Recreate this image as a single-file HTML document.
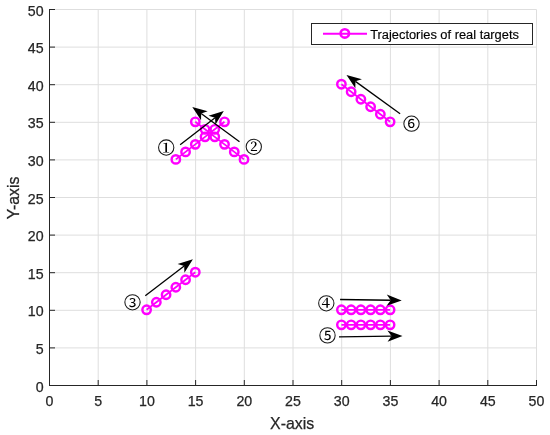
<!DOCTYPE html><html><head><meta charset="utf-8"><title>Trajectories of real targets</title><style>html,body{margin:0;padding:0;background:#fff;overflow:hidden}svg{display:block}</style></head><body>
<svg width="550" height="435" viewBox="0 0 550 435">
<rect x="0" y="0" width="550" height="435" fill="#fff"/>
<g stroke="#dedede" stroke-width="1"><line x1="98.20" y1="385.50" x2="98.20" y2="9.50"/><line x1="49.50" y1="347.90" x2="536.50" y2="347.90"/><line x1="146.90" y1="385.50" x2="146.90" y2="9.50"/><line x1="49.50" y1="310.30" x2="536.50" y2="310.30"/><line x1="195.60" y1="385.50" x2="195.60" y2="9.50"/><line x1="49.50" y1="272.70" x2="536.50" y2="272.70"/><line x1="244.30" y1="385.50" x2="244.30" y2="9.50"/><line x1="49.50" y1="235.10" x2="536.50" y2="235.10"/><line x1="293.00" y1="385.50" x2="293.00" y2="9.50"/><line x1="49.50" y1="197.50" x2="536.50" y2="197.50"/><line x1="341.70" y1="385.50" x2="341.70" y2="9.50"/><line x1="49.50" y1="159.90" x2="536.50" y2="159.90"/><line x1="390.40" y1="385.50" x2="390.40" y2="9.50"/><line x1="49.50" y1="122.30" x2="536.50" y2="122.30"/><line x1="439.10" y1="385.50" x2="439.10" y2="9.50"/><line x1="49.50" y1="84.70" x2="536.50" y2="84.70"/><line x1="487.80" y1="385.50" x2="487.80" y2="9.50"/><line x1="49.50" y1="47.10" x2="536.50" y2="47.10"/><line x1="536.50" y1="385.50" x2="536.50" y2="9.50"/><line x1="49.50" y1="9.50" x2="536.50" y2="9.50"/></g>
<g fill="#fff"><circle cx="166.20" cy="147.50" r="8.5"/><circle cx="253.80" cy="146.80" r="8.5"/><circle cx="132.50" cy="302.30" r="8.5"/><circle cx="326.30" cy="303.30" r="8.5"/><circle cx="327.50" cy="335.40" r="8.5"/><circle cx="411.50" cy="123.70" r="8.5"/></g>
<g fill="none" stroke="#ff00ff"><polyline points="175.82,159.40 185.56,151.88 195.30,144.36 205.04,136.84 214.78,129.32 224.52,121.80" stroke-width="1.8" stroke-linejoin="round"/><g stroke-width="2.45"><circle cx="175.82" cy="159.40" r="4.2"/><circle cx="185.56" cy="151.88" r="4.2"/><circle cx="195.30" cy="144.36" r="4.2"/><circle cx="205.04" cy="136.84" r="4.2"/><circle cx="214.78" cy="129.32" r="4.2"/><circle cx="224.52" cy="121.80" r="4.2"/></g><polyline points="244.00,159.40 234.26,151.88 224.52,144.36 214.78,136.84 205.04,129.32 195.30,121.80" stroke-width="1.8" stroke-linejoin="round"/><g stroke-width="2.45"><circle cx="244.00" cy="159.40" r="4.2"/><circle cx="234.26" cy="151.88" r="4.2"/><circle cx="224.52" cy="144.36" r="4.2"/><circle cx="214.78" cy="136.84" r="4.2"/><circle cx="205.04" cy="129.32" r="4.2"/><circle cx="195.30" cy="121.80" r="4.2"/></g><polyline points="146.60,309.80 156.34,302.28 166.08,294.76 175.82,287.24 185.56,279.72 195.30,272.20" stroke-width="1.8" stroke-linejoin="round"/><g stroke-width="2.45"><circle cx="146.60" cy="309.80" r="4.2"/><circle cx="156.34" cy="302.28" r="4.2"/><circle cx="166.08" cy="294.76" r="4.2"/><circle cx="175.82" cy="287.24" r="4.2"/><circle cx="185.56" cy="279.72" r="4.2"/><circle cx="195.30" cy="272.20" r="4.2"/></g><polyline points="341.40,309.80 351.14,309.80 360.88,309.80 370.62,309.80 380.36,309.80 390.10,309.80" stroke-width="1.8" stroke-linejoin="round"/><g stroke-width="2.45"><circle cx="341.40" cy="309.80" r="4.2"/><circle cx="351.14" cy="309.80" r="4.2"/><circle cx="360.88" cy="309.80" r="4.2"/><circle cx="370.62" cy="309.80" r="4.2"/><circle cx="380.36" cy="309.80" r="4.2"/><circle cx="390.10" cy="309.80" r="4.2"/></g><polyline points="341.40,324.84 351.14,324.84 360.88,324.84 370.62,324.84 380.36,324.84 390.10,324.84" stroke-width="1.8" stroke-linejoin="round"/><g stroke-width="2.45"><circle cx="341.40" cy="324.84" r="4.2"/><circle cx="351.14" cy="324.84" r="4.2"/><circle cx="360.88" cy="324.84" r="4.2"/><circle cx="370.62" cy="324.84" r="4.2"/><circle cx="380.36" cy="324.84" r="4.2"/><circle cx="390.10" cy="324.84" r="4.2"/></g><polyline points="341.40,84.20 351.14,91.72 360.88,99.24 370.62,106.76 380.36,114.28 390.10,121.80" stroke-width="1.8" stroke-linejoin="round"/><g stroke-width="2.45"><circle cx="341.40" cy="84.20" r="4.2"/><circle cx="351.14" cy="91.72" r="4.2"/><circle cx="360.88" cy="99.24" r="4.2"/><circle cx="370.62" cy="106.76" r="4.2"/><circle cx="380.36" cy="114.28" r="4.2"/><circle cx="390.10" cy="121.80" r="4.2"/></g></g>
<g stroke="#262626" stroke-width="1" stroke-linecap="square"><line x1="49.5" y1="385.5" x2="536.5" y2="385.5"/><line x1="49.5" y1="385.5" x2="49.5" y2="9.5"/><line x1="49.50" y1="385.5" x2="49.50" y2="380.50"/><line x1="49.5" y1="385.50" x2="54.50" y2="385.50"/><line x1="98.20" y1="385.5" x2="98.20" y2="380.50"/><line x1="49.5" y1="347.90" x2="54.50" y2="347.90"/><line x1="146.90" y1="385.5" x2="146.90" y2="380.50"/><line x1="49.5" y1="310.30" x2="54.50" y2="310.30"/><line x1="195.60" y1="385.5" x2="195.60" y2="380.50"/><line x1="49.5" y1="272.70" x2="54.50" y2="272.70"/><line x1="244.30" y1="385.5" x2="244.30" y2="380.50"/><line x1="49.5" y1="235.10" x2="54.50" y2="235.10"/><line x1="293.00" y1="385.5" x2="293.00" y2="380.50"/><line x1="49.5" y1="197.50" x2="54.50" y2="197.50"/><line x1="341.70" y1="385.5" x2="341.70" y2="380.50"/><line x1="49.5" y1="159.90" x2="54.50" y2="159.90"/><line x1="390.40" y1="385.5" x2="390.40" y2="380.50"/><line x1="49.5" y1="122.30" x2="54.50" y2="122.30"/><line x1="439.10" y1="385.5" x2="439.10" y2="380.50"/><line x1="49.5" y1="84.70" x2="54.50" y2="84.70"/><line x1="487.80" y1="385.5" x2="487.80" y2="380.50"/><line x1="49.5" y1="47.10" x2="54.50" y2="47.10"/><line x1="536.50" y1="385.5" x2="536.50" y2="380.50"/><line x1="49.5" y1="9.50" x2="54.50" y2="9.50"/></g>
<g font-family="'Liberation Sans', Arial, Helvetica, sans-serif" font-size="14.2" fill="#262626" stroke="#262626" stroke-width="0.25"><text x="49.50" y="406.1" text-anchor="middle">0</text><text x="43.6" y="391.60" text-anchor="end">0</text><text x="98.20" y="406.1" text-anchor="middle">5</text><text x="43.6" y="354.00" text-anchor="end">5</text><text x="146.90" y="406.1" text-anchor="middle">10</text><text x="43.6" y="316.40" text-anchor="end">10</text><text x="195.60" y="406.1" text-anchor="middle">15</text><text x="43.6" y="278.80" text-anchor="end">15</text><text x="244.30" y="406.1" text-anchor="middle">20</text><text x="43.6" y="241.20" text-anchor="end">20</text><text x="293.00" y="406.1" text-anchor="middle">25</text><text x="43.6" y="203.60" text-anchor="end">25</text><text x="341.70" y="406.1" text-anchor="middle">30</text><text x="43.6" y="166.00" text-anchor="end">30</text><text x="390.40" y="406.1" text-anchor="middle">35</text><text x="43.6" y="128.40" text-anchor="end">35</text><text x="439.10" y="406.1" text-anchor="middle">40</text><text x="43.6" y="90.80" text-anchor="end">40</text><text x="487.80" y="406.1" text-anchor="middle">45</text><text x="43.6" y="53.20" text-anchor="end">45</text><text x="536.50" y="406.1" text-anchor="middle">50</text><text x="43.6" y="15.60" text-anchor="end">50</text></g>
<text x="292.2" y="428.7" text-anchor="middle" font-family="'Liberation Sans', Arial, Helvetica, sans-serif" font-size="15.9" fill="#262626" stroke="#262626" stroke-width="0.25">X-axis</text>
<text transform="translate(18.6,197.9) rotate(-90)" x="0" y="0" text-anchor="middle" font-family="'Liberation Sans', Arial, Helvetica, sans-serif" font-size="15.9" fill="#262626" stroke="#262626" stroke-width="0.25">Y-axis</text>
<g><line x1="180.15" y1="144.80" x2="215.09" y2="117.82" stroke="#000" stroke-width="1.3"/><path d="M223.80,111.10 L215.35,124.70 L215.09,117.82 L208.50,115.83 Z" fill="#000"/><line x1="239.50" y1="141.70" x2="201.15" y2="113.43" stroke="#000" stroke-width="1.3"/><path d="M192.30,106.90 L207.70,111.29 L201.15,113.43 L201.05,120.31 Z" fill="#000"/><line x1="145.30" y1="295.80" x2="184.18" y2="265.91" stroke="#000" stroke-width="1.3"/><path d="M192.90,259.20 L184.42,272.78 L184.18,265.91 L177.60,263.90 Z" fill="#000"/><line x1="340.10" y1="299.50" x2="390.70" y2="300.24" stroke="#000" stroke-width="1.3"/><path d="M401.70,300.40 L386.62,305.78 L390.70,300.24 L386.78,294.58 Z" fill="#000"/><line x1="339.00" y1="336.90" x2="391.50" y2="336.07" stroke="#000" stroke-width="1.3"/><path d="M402.50,335.90 L387.59,341.74 L391.50,336.07 L387.41,330.54 Z" fill="#000"/><line x1="400.10" y1="113.70" x2="355.41" y2="81.35" stroke="#000" stroke-width="1.3"/><path d="M346.50,74.90 L361.93,79.16 L355.41,81.35 L355.37,88.23 Z" fill="#000"/></g>
<defs><clipPath id="c0"><circle cx="166.20" cy="147.50" r="6.6"/></clipPath><clipPath id="c1"><circle cx="253.80" cy="146.80" r="6.6"/></clipPath><clipPath id="c2"><circle cx="132.50" cy="302.30" r="6.6"/></clipPath><clipPath id="c3"><circle cx="326.30" cy="303.30" r="6.6"/></clipPath><clipPath id="c4"><circle cx="327.50" cy="335.40" r="6.6"/></clipPath><clipPath id="c5"><circle cx="411.50" cy="123.70" r="6.6"/></clipPath></defs><g><circle cx="166.20" cy="147.50" r="7.65" fill="none" stroke="#1a1a1a" stroke-width="1.05"/><text clip-path="url(#c0)" x="157.00" y="154.58" font-family="'Noto Serif CJK SC', serif" font-weight="600" font-size="18.5" fill="#000">①</text><circle cx="253.80" cy="146.80" r="7.65" fill="none" stroke="#1a1a1a" stroke-width="1.05"/><text clip-path="url(#c1)" x="245.52" y="153.17" font-family="'Noto Serif CJK SC', serif" font-weight="600" font-size="16.650000000000002" fill="#000">②</text><circle cx="132.50" cy="302.30" r="7.65" fill="none" stroke="#1a1a1a" stroke-width="1.05"/><text clip-path="url(#c2)" x="124.04" y="308.80" font-family="'Noto Sans CJK SC', sans-serif" font-weight="400" font-size="17.0" fill="#000">③</text><circle cx="326.30" cy="303.30" r="7.65" fill="none" stroke="#1a1a1a" stroke-width="1.05"/><text clip-path="url(#c3)" x="317.10" y="310.38" font-family="'Noto Serif CJK SC', serif" font-weight="600" font-size="18.5" fill="#000">④</text><circle cx="327.50" cy="335.40" r="7.65" fill="none" stroke="#1a1a1a" stroke-width="1.05"/><text clip-path="url(#c4)" x="319.04" y="341.90" font-family="'Noto Sans CJK SC', sans-serif" font-weight="400" font-size="17.0" fill="#000">⑤</text><circle cx="411.50" cy="123.70" r="7.65" fill="none" stroke="#1a1a1a" stroke-width="1.05"/><text clip-path="url(#c5)" x="403.04" y="130.20" font-family="'Noto Sans CJK SC', sans-serif" font-weight="400" font-size="17.0" fill="#000">⑥</text></g>
<rect x="311.5" y="23.5" width="221" height="21" fill="#fff" stroke="#262626" stroke-width="1"/><line x1="323" y1="33.7" x2="367" y2="33.7" stroke="#ff00ff" stroke-width="2.1"/><circle cx="344.8" cy="33.4" r="4.2" fill="none" stroke="#ff00ff" stroke-width="2.6"/><text x="370.2" y="39.2" font-family="'Liberation Sans', Arial, Helvetica, sans-serif" font-size="12.85" fill="#000" stroke="#000" stroke-width="0.15">Trajectories of real targets</text>
</svg></body></html>
